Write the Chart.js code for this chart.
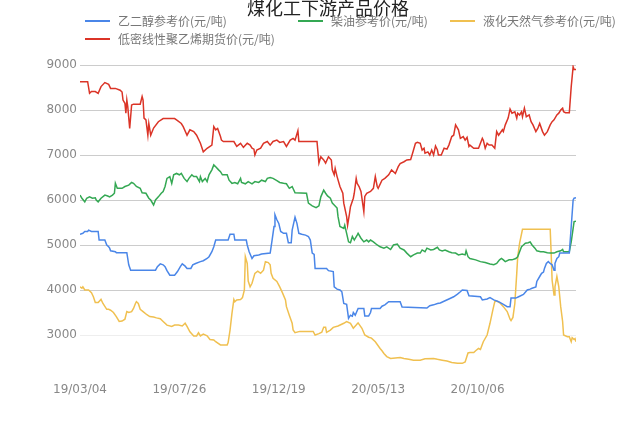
<!DOCTYPE html>
<html>
<head>
<meta charset="utf-8">
<script src="https://cdn.jsdelivr.net/npm/chart.js@4"></script>
<style>
  body { margin: 0; background: #fff; }
</style>
</head>
<body>
<canvas id="chart" width="640" height="427"></canvas>
<script>
// x = trading day index counted from 19/03/04
const tickDays = [0, 104, 208, 312, 416];
const tickLabels = ['19/03/04', '19/07/26', '19/12/19', '20/05/13', '20/10/06'];

const seriesNames = ['乙二醇参考价(元/吨)', '柴油参考价(元/吨)', '液化天然气参考价(元/吨)', '低密线性聚乙烯期货价(元/吨)'];

const glycolDays = [0,3,5,8,9,12,19,20,26,28,30,31,32,37,38,49,51,53,79,81,84,87,89,91,94,99,102,105,107,110,112,116,118,121,126,129,133,135,138,140,142,155,157,161,162,174,175,177,180,182,187,190,199,201,203,204,206,208,210,213,216,218,221,222,225,227,229,232,236,239,241,243,245,246,258,260,265,266,269,272,274,276,279,281,283,285,286,288,291,297,298,302,304,305,314,316,319,323,335,337,363,366,370,374,377,382,386,391,395,398,400,405,407,419,421,426,429,433,438,443,447,450,451,456,459,464,468,471,473,477,478,481,483,485,486,488,490,492,494,496,497,499,501,502,512,514,516,517,519];
const glycolPrice = [5240,5260,5300,5300,5330,5300,5300,5110,5110,5000,4960,4930,4870,4850,4830,4830,4560,4440,4440,4520,4580,4560,4520,4430,4330,4330,4410,4520,4580,4530,4480,4480,4560,4590,4630,4650,4700,4740,4850,4960,5110,5110,5240,5240,5110,5110,5000,4850,4700,4760,4780,4800,4820,5110,5410,5670,5560,5480,5300,5260,5260,5050,5050,5330,5620,5480,5260,5240,5220,5190,5110,4820,4790,4480,4480,4430,4410,4070,4020,4000,3960,3700,3680,3370,3440,3420,3500,3440,3590,3590,3420,3420,3500,3590,3590,3640,3670,3740,3740,3620,3600,3650,3670,3700,3710,3760,3800,3850,3910,3960,4000,3990,3870,3850,3780,3800,3830,3780,3740,3680,3630,3630,3820,3820,3850,3900,4000,4020,4040,4070,4190,4300,4370,4400,4480,4590,4630,4590,4560,4440,4590,4700,4740,4820,4820,5410,6000,6040,6050];

const dieselDays = [0,2,5,7,10,13,16,17,19,22,26,29,31,34,36,37,39,44,47,51,54,56,59,63,65,69,72,74,77,79,82,85,87,89,91,94,96,98,101,104,106,109,112,114,117,119,122,125,126,128,131,133,135,138,140,142,145,147,149,154,156,159,162,165,168,169,173,176,180,183,187,190,194,196,199,202,206,209,213,216,219,222,225,237,239,243,247,250,252,255,257,259,262,264,266,269,270,272,276,277,279,281,283,285,287,290,291,294,297,300,302,304,307,311,314,318,321,325,328,332,335,339,342,346,349,353,356,358,361,363,367,370,374,376,379,382,386,389,393,396,400,403,404,406,408,414,419,424,429,433,436,439,441,443,445,449,452,456,458,460,462,464,466,469,471,473,476,478,482,485,489,492,496,499,503,505,506,512,514,516,517,519];
const dieselPrice = [6110,6040,5960,6040,6070,6040,6050,6000,5960,6040,6110,6090,6070,6110,6150,6370,6260,6260,6300,6330,6390,6370,6300,6260,6160,6150,6040,6000,5890,6000,6070,6150,6190,6300,6480,6520,6370,6560,6590,6560,6590,6480,6410,6480,6560,6520,6520,6410,6520,6410,6480,6410,6560,6670,6780,6740,6670,6630,6560,6560,6440,6370,6390,6360,6480,6390,6360,6410,6360,6410,6390,6440,6410,6480,6500,6480,6430,6390,6370,6360,6260,6300,6160,6150,5930,5870,5830,5870,6070,6220,6150,6090,6040,5930,5890,5820,5630,5410,5370,5440,5260,5070,5050,5190,5110,5220,5260,5150,5070,5110,5070,5110,5070,5000,4960,4930,4960,4900,5000,5020,4930,4890,4820,4740,4780,4820,4820,4890,4850,4930,4890,4900,4950,4890,4870,4890,4850,4830,4820,4780,4800,4780,4870,4740,4700,4670,4630,4610,4580,4560,4590,4670,4700,4670,4630,4670,4670,4700,4740,4850,4960,5000,5040,5050,5070,5000,4930,4870,4850,4850,4830,4820,4820,4850,4870,4900,4850,4850,5070,5370,5520,5530];

const lngDays = [0,2,3,5,9,12,14,16,19,22,24,28,30,32,35,38,41,44,47,49,51,54,56,58,59,61,63,66,70,73,77,80,84,87,91,96,99,103,107,110,112,115,119,122,124,126,129,133,136,140,142,147,154,155,157,159,161,162,164,168,170,172,173,175,176,178,180,183,186,189,192,194,197,199,200,202,206,209,212,215,216,219,222,223,225,230,244,246,250,253,255,257,258,262,265,270,276,279,283,286,289,291,295,298,302,305,309,314,316,318,321,325,330,335,339,344,349,356,361,370,374,379,384,389,395,400,403,406,408,412,414,417,419,422,426,429,432,434,436,440,443,447,450,451,453,455,457,458,460,463,492,493,494,496,497,499,501,503,505,506,510,512,514,515,517,518,519];
const lngPrice = [4070,4040,4070,4000,4000,3940,3850,3720,3720,3790,3700,3570,3570,3550,3500,3410,3300,3310,3350,3520,3500,3520,3590,3700,3740,3700,3570,3520,3450,3410,3400,3380,3360,3300,3220,3190,3220,3220,3200,3260,3190,3070,2980,2980,3050,2980,3020,2980,2900,2890,2850,2780,2780,2830,3110,3480,3790,3740,3780,3790,3830,4000,4740,4590,4200,4070,4150,4370,4420,4370,4440,4630,4610,4560,4370,4260,4190,4070,3930,3780,3630,3440,3260,3110,3050,3080,3080,3000,3030,3060,3170,3170,3060,3110,3170,3200,3260,3300,3260,3150,3220,3270,3150,3000,2950,2930,2850,2700,2650,2590,2520,2480,2490,2500,2480,2460,2440,2440,2470,2480,2460,2440,2420,2390,2370,2370,2400,2600,2610,2610,2650,2700,2680,2850,3000,3260,3560,3740,3760,3700,3630,3520,3350,3320,3390,3700,4370,4740,5040,5350,5350,4820,4220,3890,4070,4300,4070,3630,3300,3000,2960,2960,2850,2940,2900,2920,2850];

const lldpeDays = [0,8,10,12,16,19,22,26,30,32,37,42,44,45,47,48,49,50,52,54,56,63,65,66,67,69,71,72,74,77,82,87,99,101,106,108,112,115,119,122,126,129,133,138,140,142,144,147,148,150,161,164,168,171,175,178,180,182,183,185,189,192,196,199,202,206,209,213,216,220,223,225,228,229,248,250,252,255,257,260,263,264,266,267,269,272,275,276,279,280,282,283,286,287,289,290,292,294,297,298,300,304,307,309,311,312,316,319,323,326,330,333,335,339,342,346,348,351,353,356,358,360,361,364,366,368,370,372,374,375,378,381,384,386,389,391,393,396,398,401,403,405,407,408,412,417,421,422,424,426,428,431,434,436,438,442,443,445,448,450,452,455,457,458,460,462,463,465,467,470,472,474,477,479,481,484,486,489,492,494,496,499,501,503,505,506,508,512,514,516,517,519];
const lldpePrice = [8630,8630,8370,8410,8410,8370,8520,8610,8570,8480,8480,8440,8400,8220,8150,7930,8220,8070,7590,8110,8130,8130,8300,8220,7820,7780,7440,7700,7440,7600,7740,7810,7810,7780,7700,7630,7440,7560,7520,7440,7260,7070,7150,7220,7630,7560,7590,7410,7330,7300,7300,7190,7260,7170,7260,7220,7150,7130,7000,7110,7150,7260,7300,7220,7300,7330,7280,7300,7190,7330,7370,7330,7540,7300,7300,6820,6960,6890,6820,6960,6890,6670,6560,6700,6520,6300,6150,5930,5630,5440,5700,5850,6040,6150,6480,6370,6300,6190,5740,6080,6150,6190,6260,6520,6300,6260,6440,6480,6560,6670,6590,6740,6810,6850,6890,6900,7040,7260,7280,7260,7110,7150,7040,7070,7000,7110,7000,7200,7110,7000,7000,7150,7130,7220,7410,7440,7670,7560,7370,7410,7330,7390,7190,7220,7150,7150,7370,7330,7150,7260,7220,7220,7150,7520,7440,7560,7520,7670,7820,8020,7930,7960,7820,7930,7890,7960,7850,8040,7850,7890,7740,7670,7520,7590,7700,7520,7440,7520,7670,7740,7780,7890,7930,8000,8040,7960,7940,7940,8520,8960,8900,8900];

const seriesColors = ['#4a86e8', '#34a853', '#f0c050', '#db3427'];

function points(days, prices) {
    return days.map((d, i) => ({ x: d, y: prices[i] }));
}

// title + legend are laid out like the original (two rows, fixed slots)
const legendSlots = [
    { x: 85, y: 21 }, { x: 298, y: 21 }, { x: 450, y: 21 }, { x: 85, y: 39 }
];

const headerPlugin = {
    id: 'header',
    afterDraw(chart) {
        const ctx = chart.ctx;
        ctx.save();
        ctx.fillStyle = '#222';
        ctx.font = '18px "Noto Sans CJK SC"';
        ctx.textAlign = 'center';
        ctx.textBaseline = 'middle';
        ctx.fillText('煤化工下游产品价格', 328, 8);

        ctx.font = '12px "Noto Sans CJK SC"';
        ctx.textAlign = 'left';
        chart.data.datasets.forEach((ds, i) => {
            const s = legendSlots[i];
            ctx.strokeStyle = ds.borderColor;
            ctx.lineWidth = 2;
            ctx.beginPath();
            ctx.moveTo(s.x, s.y);
            ctx.lineTo(s.x + 25, s.y);
            ctx.stroke();
            ctx.fillStyle = '#777';
            ctx.fillText(ds.label, s.x + 33, s.y);
        });
        ctx.restore();
    }
};

const ctx = document.getElementById('chart').getContext('2d');
new Chart(ctx, {
    type: 'line',
    data: {
        datasets: [
            { label: seriesNames[0], data: points(glycolDays, glycolPrice), borderColor: seriesColors[0] },
            { label: seriesNames[1], data: points(dieselDays, dieselPrice), borderColor: seriesColors[1] },
            { label: seriesNames[2], data: points(lngDays, lngPrice), borderColor: seriesColors[2] },
            { label: seriesNames[3], data: points(lldpeDays, lldpePrice), borderColor: seriesColors[3] }
        ]
    },
    options: {
        responsive: false,
        animation: false,
        layout: { padding: { top: 65, right: 64, left: 0, bottom: 0 } },
        elements: {
            point: { radius: 0 },
            line: { borderWidth: 1.5, tension: 0, fill: false }
        },
        plugins: {
            legend: { display: false },
            title: { display: false },
            tooltip: { enabled: false }
        },
        scales: {
            x: {
                type: 'linear',
                min: 0,
                max: 519,
                grid: { display: false },
                border: { display: false },
                afterBuildTicks: axis => { axis.ticks = tickDays.map(v => ({ value: v })); },
                afterFit: axis => { axis.height = 47; },
                ticks: {
                    autoSkip: false,
                    maxRotation: 0,
                    padding: -5,
                    color: '#888',
                    font: { family: 'DejaVu Sans', size: 12 },
                    callback: v => tickLabels[tickDays.indexOf(v)]
                }
            },
            y: {
                min: 2000,
                max: 9000,
                border: { display: false },
                grid: {
                    drawTicks: false,
                    lineWidth: 1,
                    color: c => c.tick.value === 2000 ? 'rgba(0,0,0,0)' : (c.tick.value === 3000 ? '#eeeeee' : '#cccccc')
                },
                afterFit: axis => { axis.width = 80; },
                ticks: {
                    stepSize: 1000,
                    padding: 3,
                    color: '#888',
                    font: { family: 'DejaVu Sans', size: 12 },
                    callback: v => v === 2000 ? '' : v
                }
            }
        }
    },
    plugins: [headerPlugin]
});
</script>
</body>
</html>
